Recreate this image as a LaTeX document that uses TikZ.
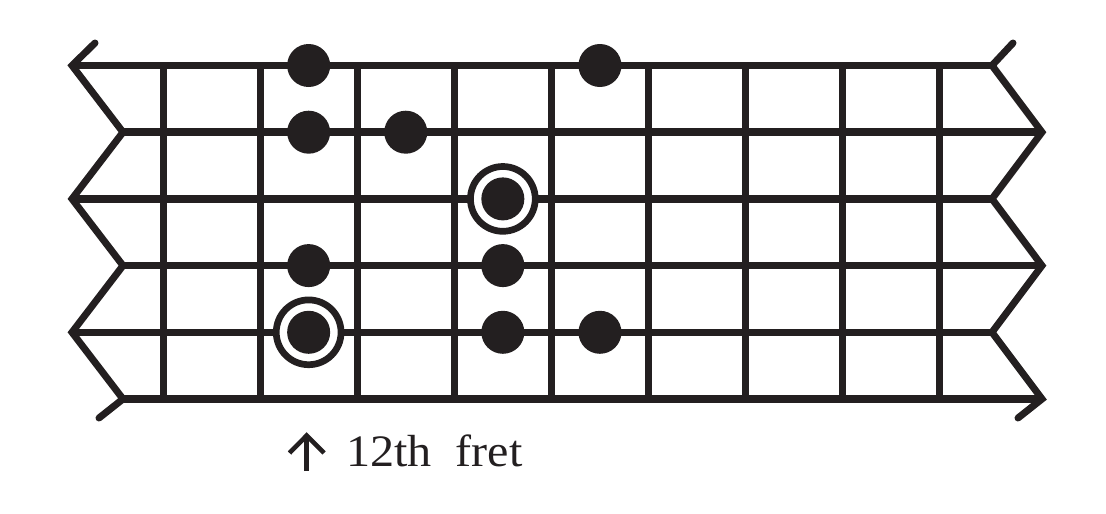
\documentclass[tikz,border=0pt]{standalone}
\usepackage{fontspec}
\setmainfont{Liberation Serif}
\definecolor{ink}{HTML}{231F20}
\begin{document}
\begin{tikzpicture}[x=1pt,y=-1pt,
  stringline/.style={draw=ink,line width=7.5pt},
  fretline/.style={draw=ink,line width=7pt},
  edgeline/.style={draw=ink,line width=7pt,line cap=round,line join=miter},
  dotmark/.style={fill=ink},
  ringmark/.style={draw=ink,fill=white,line width=6.7pt}]
\useasboundingbox (0,0) rectangle (1106,514);
\pgfmathsetmacro{\sy}{66.7}
\pgfmathsetmacro{\fx}{97.1}
% frets
\foreach \j in {0,...,8}{
  \draw[fretline] ({163+\fx*\j},65.5) -- ({163+\fx*\j},399);
}
% strings
\foreach \i in {0,...,5}{
  \pgfmathsetmacro{\yy}{65.5+\sy*\i}
  \pgfmathsetmacro{\xl}{isodd(\i) ? 123 : 72}
  \pgfmathsetmacro{\xr}{isodd(\i) ? 1042 : 992}
  \draw[stringline] (\xl,\yy) -- (\xr,\yy);
}
% left zigzag
\draw[edgeline] (95,43) -- (72,65.5) -- (123,132.2) -- (72,198.9) -- (123,265.6) -- (72,332.3) -- (123,399) -- (99,418);
% right zigzag
\draw[edgeline] (1013,43) -- (992,65.5) -- (1042,132.2) -- (992,198.9) -- (1042,265.6) -- (992,332.3) -- (1042,399) -- (1018,418);
% dots
\foreach \k/\i in {1/0,4/0,1/1,2/1,1/3,3/3,3/4,4/4}{
  \fill[dotmark] ({163+\fx*(\k+0.5)},{65.5+\sy*\i}) circle (21.5);
}
% rings
\foreach \k/\i in {3/2,1/4}{
  \draw[ringmark] ({163+\fx*(\k+0.5)},{65.5+\sy*\i}) circle (32.4);
  \fill[dotmark] ({163+\fx*(\k+0.5)},{65.5+\sy*\i}) circle (21.5);
}
% label
\coordinate (arrowbase) at (306.7,471);
\coordinate (arrowtip) at (306.7,435.5);
\draw[draw=ink,line width=4.6pt] (arrowbase) -- (arrowtip);
\draw[draw=ink,line width=4.6pt,line join=miter] (289.5,453) -- (arrowtip) -- (324,453);
\node[anchor=base west,inner sep=0pt,text=ink,font=\fontsize{45}{50}\selectfont,xscale=1.07] (label) at (346,466) {12th\hspace{0.5em}fret};
\end{tikzpicture}
\end{document}
